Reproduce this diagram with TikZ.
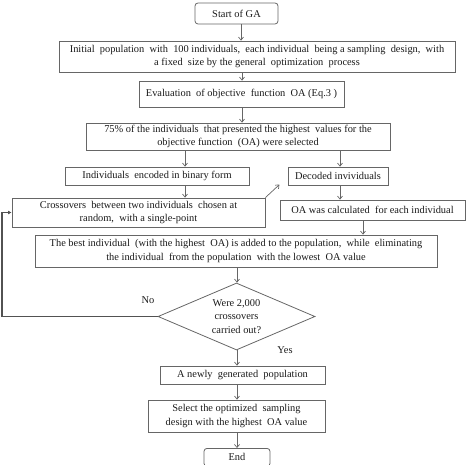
\documentclass[tikz,border=0pt]{standalone}
\usepackage{fontspec}
\setmainfont{Liberation Serif}
\usetikzlibrary{arrows.meta,shapes.geometric}
\definecolor{ln}{HTML}{666666}
\definecolor{tx}{HTML}{1a1a1a}
\tikzset{
  box/.style={draw=ln,line width=0.8pt,rectangle,inner sep=1pt,align=center,text=tx,font=\fontsize{10.4}{13.8}\selectfont},
  rbox/.style={box,rounded corners=3pt},
  dia/.style={draw=ln,line width=0.8pt,diamond,aspect=2.34,inner sep=0pt,align=center,text=tx,font=\fontsize{10.4}{13.8}\selectfont},
  arr/.style={draw=ln,line width=0.7pt,-{Straight Barb[length=3pt,width=5pt]}},
  fbarr/.style={draw=ln!80!black,line width=1.1pt,-{Latex[length=3.5pt,width=4pt]}},
  lbl/.style={text=tx,font=\fontsize{10.4}{12}\selectfont}
}
\begin{document}
\begin{tikzpicture}[x=1pt,y=-1pt]
\useasboundingbox (0,0) rectangle (474,465);
\node[rbox,minimum width=83pt,minimum height=21pt] (start) at (236.5,13.5) {Start of GA};
\node[box,minimum width=396pt,minimum height=31pt] (init) at (257,56.5) {Initial\ \ population\ \ with\ \ 100 individuals,\ \ each individual\ \ being\ a sampling\ \ design,\ \ with\\ a fixed\ \ size\ by the\ general\ \ optimization\ \ process};
\node[box,minimum width=205pt,minimum height=26pt] (eval) at (241.5,94) {Evaluation\ \ of objective\ \ function\ \ OA (Eq.3 )};
\node[box,minimum width=304pt,minimum height=27pt] (sel) at (238,136.5) {75\% of the individuals\ \ that presented the highest\ \ values\ for the\\ objective function\ \ (OA) were selected};
\node[box,minimum width=184pt,minimum height=18pt] (enc) at (157,176) {Individuals\ \ encoded\ in binary\ form};
\node[box,minimum width=100pt,minimum height=18pt] (dec) at (338,176) {Decoded\ invividuals};
\node[box,minimum width=253pt,minimum height=29pt] (cross) at (138.5,212.5) {Crossovers\ \ between two individuals\ \ chosen at\\ random,\ \ with\ a single-point};
\node[box,minimum width=185pt,minimum height=20pt] (oa) at (372.5,210) {OA was calculated\ \ for each individual};
\node[box,minimum width=402pt,minimum height=32pt] (best) at (236,251) {The best individual\ \ (with the highest\ \ OA) is added to the population,\ \ while\ \ eliminating\\ the\ individual\ \ from\ the population\ \ with\ the lowest\ \ OA value};
\node[dia,minimum width=157pt,minimum height=67pt] (dec2) at (236.5,316.5) {Were 2,000\\ crossovers\\ carried out?};
\node[box,minimum width=165pt,minimum height=18pt] (newp) at (242.5,375) {A newly\ \ generated\ \ population};
\node[box,minimum width=177pt,minimum height=32pt] (opt) at (236.5,416) {Select\ the optimized\ \ sampling\\ design\ with the highest\ \ OA value};
\node[rbox,minimum width=66pt,minimum height=18pt,anchor=north] (endn) at (237,448) {End};
\node[lbl] (no) at (148,300) {No};
\node[lbl] (yes) at (285,350) {Yes};
\coordinate (fbx) at (2,0);
% main arrows
\draw[arr] (start.south -| 241,0) -- (init.north -| 241,0);
\draw[arr] (init.south -| 242,0) -- (eval.north -| 242,0);
\draw[arr] (eval.south -| 242,0) -- (sel.north -| 242,0);
\draw[arr] (sel.south -| 185,0) -- (enc.north -| 185,0);
\draw[arr] (sel.south -| 340,0) -- (dec.north -| 340,0);
\draw[arr] (enc.south -| 185,0) -- (cross.north -| 185,0);
\draw[arr] (dec.south -| 340,0) -- (oa.north -| 340,0);
\draw[arr] (oa.south -| 363,0) -- (best.north -| 363,0);
\draw[arr] (cross.north east) -- ++(14,-13);
\draw[arr] (best.south -| 237,0) -- (dec2.north -| 237,0);
\draw[arr] (dec2.south -| 237,0) -- (newp.north -| 237,0);
\draw[arr] (newp.south -| 237,0) -- (opt.north -| 237,0);
\draw[arr] (opt.south -| 237,0) -- (endn.north -| 237,0);
% feedback
\draw[fbarr] (dec2.west) -- (dec2.west -| fbx) |- (cross.west);
\end{tikzpicture}
\end{document}
